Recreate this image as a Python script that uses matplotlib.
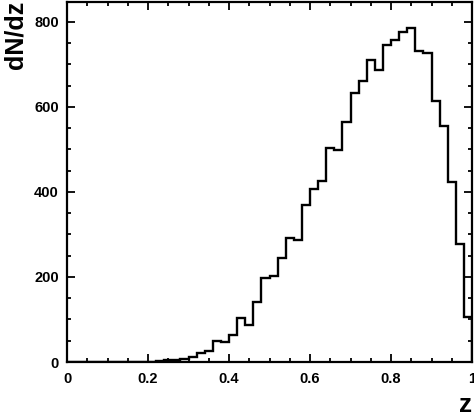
import numpy as np
import matplotlib
matplotlib.use("Agg")
import matplotlib.pyplot as plt
from matplotlib.ticker import MultipleLocator

plt.rcParams['font.family'] = ['Liberation Sans', 'DejaVu Sans']

# bin edges: 50 bins of width 0.02 from 0 to 1
bin_edges = np.linspace(0.0, 1.0, 51)
counts = [
    0, 0, 0, 0, 0, 0, 0, 0, 0, 0,          # 0.00 - 0.18
    0, 2, 4, 5, 8, 12, 20, 27, 50, 47,     # 0.20 - 0.38
    63, 104, 87, 141, 197, 203, 245, 291, 286, 369,  # 0.40 - 0.58
    406, 426, 504, 499, 565, 634, 660, 711, 688, 746,  # 0.60 - 0.78
    758, 776, 785, 731, 728, 614, 555, 424, 278, 105,  # 0.80 - 0.98
]
xtick_vals = [0, 0.2, 0.4, 0.6, 0.8, 1.0]
xtick_labels = ['0', '0.2', '0.4', '0.6', '0.8', '1']
ytick_vals = [0, 200, 400, 600, 800]
ytick_labels = ['0', '200', '400', '600', '800']
xlabel = "z"
ylabel = "dN/dz"

fig = plt.figure(figsize=(4.74, 4.13), dpi=100)
ax = fig.add_axes([67/474, 51/413, 405/474, 360/413])
ax.stairs(counts, bin_edges, color='black', linewidth=1.7, baseline=0)
ax.set_xlim(0, 1)
ax.set_ylim(0, 847)

ax.xaxis.set_minor_locator(MultipleLocator(0.05))
ax.yaxis.set_minor_locator(MultipleLocator(50))
ax.tick_params(which='both', direction='in', top=True, right=True, width=1.3)
ax.tick_params(which='major', length=5.5)
ax.tick_params(which='minor', length=3)
ax.tick_params(axis='x', which='major', pad=7)
ax.tick_params(axis='y', which='major', pad=6)
ax.set_xticks(xtick_vals)
ax.set_xticklabels(xtick_labels, fontsize=10.5, fontweight='bold')
ax.set_yticks(ytick_vals)
ax.set_yticklabels(ytick_labels, fontsize=10.5, fontweight='bold')
for s in ax.spines.values():
    s.set_linewidth(1.6)

fig.text(3/474, 1 - 1/413, ylabel, rotation=90, ha='left', va='top',
         fontsize=18, fontweight='bold')
fig.text(472/474, 1.5/413, xlabel, ha='right', va='baseline',
         fontsize=19, fontweight='bold')

fig.savefig("out.png", dpi=100)
